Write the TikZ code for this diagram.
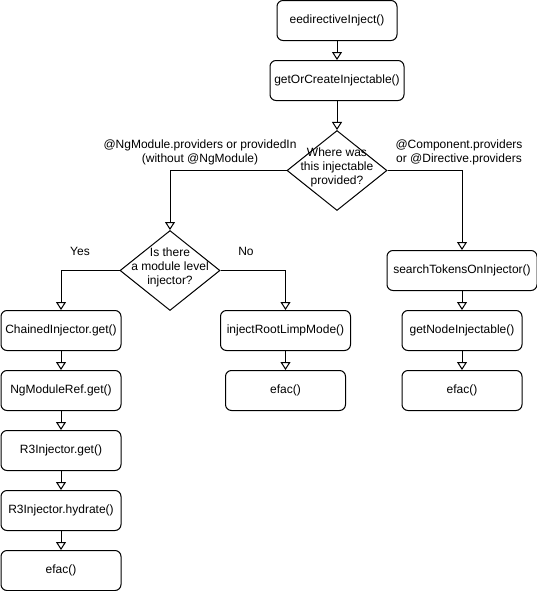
\documentclass[tikz,border=0pt]{standalone}
\usepackage{fontspec}
\setmainfont{Liberation Sans}
\usetikzlibrary{shapes.geometric, arrows.meta}
\newcommand{\dtext}[1]{\smash{\makebox[0pt]{\begin{tabular}{@{}c@{}}#1\end{tabular}}}}
\tikzstyle{process} = [rectangle, rounded corners=6bp, minimum width=120bp, minimum height=40bp, text centered, draw=black, line width=1bp, font=\fontsize{12bp}{14bp}\selectfont]
\tikzstyle{decision} = [diamond, minimum width=100bp, minimum height=80bp, inner sep=0pt, draw=black, line width=1bp, font=\fontsize{12bp}{14bp}\selectfont]
\tikzstyle{note} = [align=center, inner sep=0pt, font=\fontsize{12bp}{14bp}\selectfont]
\tikzstyle{arrow} = [line width=1bp, -{Triangle[open, length=8bp, width=10bp]}]

\begin{document}
\begin{tikzpicture}[node distance=60bp]
\useasboundingbox (0,0) rectangle (537bp,-591bp);

\node (inject) [process] at (337bp,-20.5bp) {eedirectiveInject()};
\node (create) [process, below of=inject, minimum width=134bp] {getOrCreateInjectable()};
\node (where) [decision, below of=create, yshift=-30bp] {\dtext{Where was\\this injectable\\provided?}};
\node (modlevel) [decision, below of=where, xshift=-167bp, yshift=-40bp] {\dtext{Is there\\a module level\\injector?}};
\node (chained) [process, below of=modlevel, xshift=-109bp] {ChainedInjector.get()};
\node (ngref) [process, below of=chained] {NgModuleRef.get()};
\node (r3get) [process, below of=ngref] {R3Injector.get()};
\node (hydrate) [process, below of=r3get] {R3Injector.hydrate()};
\node (efacA) [process, below of=hydrate] {efac()};
\node (rootlimp) [process, below of=modlevel, xshift=115.5bp, minimum width=130bp] {injectRootLimpMode()};
\node (efacB) [process, below of=rootlimp] {efac()};
\node (search) [process, below of=where, xshift=125bp, yshift=-40bp, minimum width=150bp] {searchTokensOnInjector()};
\node (nodeinj) [process, below of=search] {getNodeInjectable()};
\node (efacC) [process, below of=nodeinj] {efac()};

\node (viamodule) [note, left of=where, xshift=-77bp, yshift=18.5bp] {@NgModule.providers or providedIn\\(without @NgModule)};
\node (viacomp) [note, right of=where, xshift=62bp, yshift=18.5bp] {@Component.providers\\or @Directive.providers};
\node (yes) [note, left of=modlevel, xshift=-30bp, yshift=19bp] {Yes};
\node (no) [note, right of=modlevel, xshift=16bp, yshift=19bp] {No};

\draw [arrow] (inject) -- (create);
\draw [arrow] (create) -- (where);
\draw [arrow] (where.west) -| (modlevel.north);
\draw [arrow] (where.east) -| (search.north);
\draw [arrow] (modlevel.west) -| (chained.north);
\draw [arrow] (modlevel.east) -| (rootlimp.north);
\draw [arrow] (chained) -- (ngref);
\draw [arrow] (ngref) -- (r3get);
\draw [arrow] (r3get) -- (hydrate);
\draw [arrow] (hydrate) -- (efacA);
\draw [arrow] (rootlimp) -- (efacB);
\draw [arrow] (search) -- (nodeinj);
\draw [arrow] (nodeinj) -- (efacC);

\end{tikzpicture}
\end{document}
